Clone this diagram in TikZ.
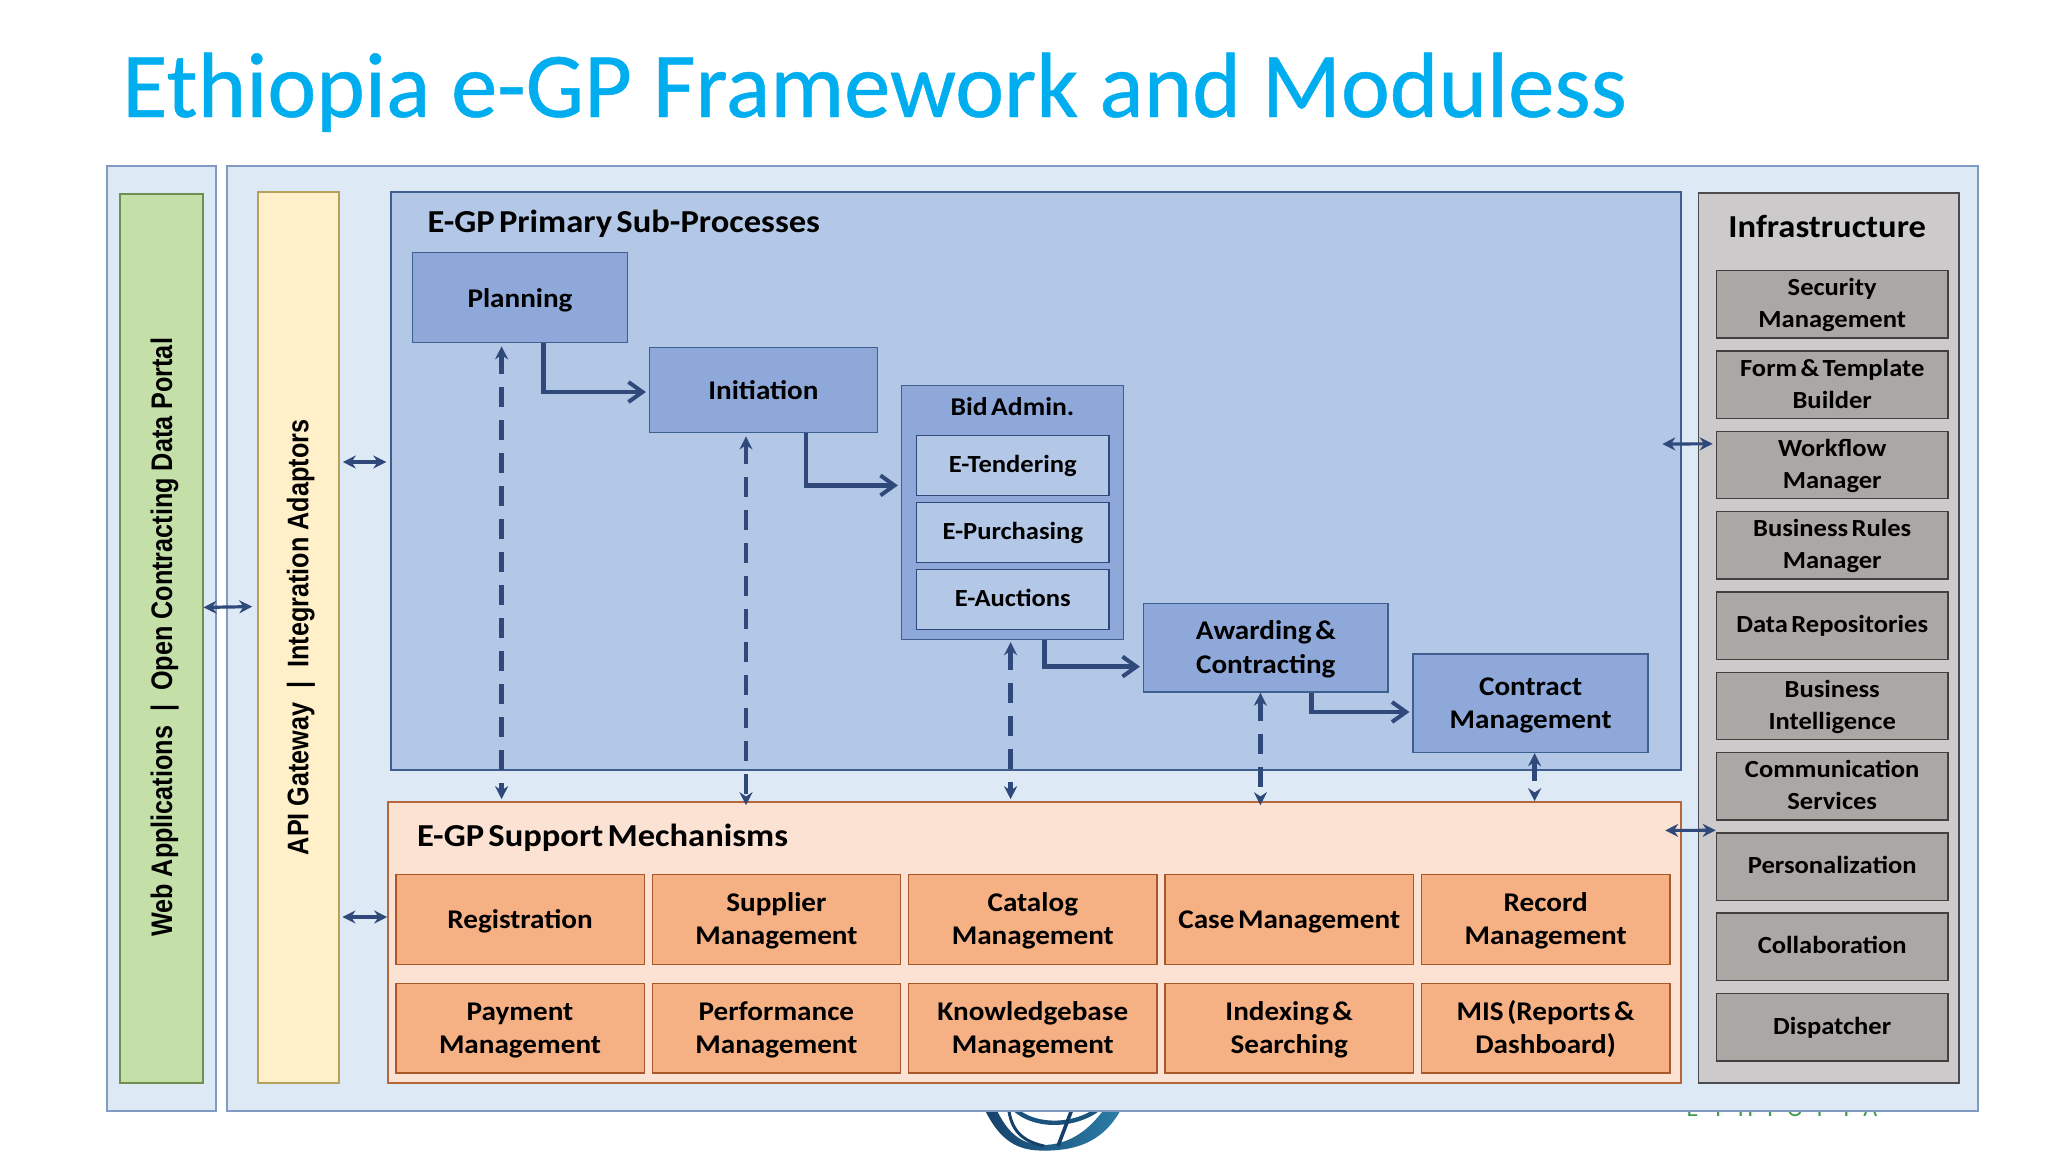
\documentclass[tikz,border=0pt]{standalone}
\usepackage{fontspec}
\usepackage{graphicx}
\usetikzlibrary{arrows.meta}
\setmainfont{Carlito}
\newfontfamily\titlefont{Carlito}[FakeBold=0.5]
\newfontfamily\boxfont{Carlito}[FakeStretch=1.08, WordSpace=0.55]
\newfontfamily\sidefont{Liberation Sans}
\definecolor{titleblue}{HTML}{00AEEF}
\definecolor{panelfill}{HTML}{DEE9F6}
\definecolor{paneldraw}{HTML}{7F9BC4}
\definecolor{webgreen}{HTML}{C5DFA9}
\definecolor{webdraw}{HTML}{6E8F50}
\definecolor{apiyellow}{HTML}{FFF0C9}
\definecolor{apidraw}{HTML}{B5A15C}
\definecolor{primaryfill}{HTML}{B3C7E6}
\definecolor{primarydraw}{HTML}{3F5F8F}
\definecolor{stagefill}{HTML}{8FA8DA}
\definecolor{supportfill}{HTML}{FCE2D2}
\definecolor{supportdraw}{HTML}{B5673A}
\definecolor{modulefill}{HTML}{F5B084}
\definecolor{moduledraw}{HTML}{A8572A}
\definecolor{infrafill}{HTML}{CCCACA}
\definecolor{servicefill}{HTML}{ABA7A5}
\definecolor{navyline}{HTML}{2F4A7A}
\definecolor{logonavy}{HTML}{15406A}
\definecolor{logoteal}{HTML}{2C7FA8}
\definecolor{wordgreen}{HTML}{3E9A4E}

\begin{document}
\begin{tikzpicture}[x=1pt, y=-1pt,
        panel/.style={rectangle, draw=paneldraw, fill=panelfill, line width=0.8pt, inner sep=0pt},
        stage/.style={rectangle, draw=primarydraw, fill=stagefill, line width=0.7pt, align=center, inner sep=0pt,
            text height=9.4pt, text depth=0pt,
            font=\boxfont\fontsize{13.5}{16.7}\selectfont\bfseries},
        twolines/.style={text height=25.2pt},
        tender/.style={stage, text height=6.8pt, fill=primaryfill, draw=navyline, minimum width=96.3pt, minimum height=30pt, font=\boxfont\fontsize{12.3}{15}\selectfont\bfseries},
        module/.style={stage, fill=modulefill, draw=moduledraw, minimum width=124.2pt, minimum height=44.8pt},
        service/.style={stage, text height=7pt, fill=servicefill, draw=black!75, minimum width=115.8pt, minimum height=33.7pt, font=\boxfont\fontsize{12.3}{16}\selectfont\bfseries},
        servicetwo/.style={service, text height=23.4pt},
        heading/.style={anchor=west, inner sep=0pt, font=\boxfont\fontsize{16}{19}\selectfont\bfseries},
        sidetext/.style={rotate=90, inner sep=0pt, font=\sidefont\fontsize{12.6}{15}\selectfont\bfseries},
        arrow/.style={-{Straight Barb[length=7pt,width=10pt,line width=2pt]}, navyline, line width=2.2pt, shorten >=1.5pt},
        link/.style={{Stealth[length=6.5pt,width=6.5pt]}-{Stealth[length=6.5pt,width=6.5pt]}, navyline, line width=1.6pt},
        dashlink/.style={link, dash pattern=on 10pt off 6.5pt, line width=2.3pt}]

    \useasboundingbox (0,0) rectangle (1024,576);

    % the logo and word left behind the panels
    \node[anchor=base, inner sep=0pt, text=wordgreen, font=\fontsize{12}{14}\selectfont] (ethiopia) at (891,558.4) {E\hspace{7pt}T\hspace{7pt}H\hspace{7pt}I\hspace{7pt}O\hspace{7pt}P\hspace{7pt}I\hspace{7pt}A};
    \shade[left color=logonavy, right color=logoteal] (491,552) .. controls (500,572) and (510,575.3) .. (522,575.3) .. controls (540,575.3) and (553,570) .. (562,552) -- (554,552) .. controls (545,565) and (535,572.5) .. (521,572.5) .. controls (510,572) and (503,566) .. (497,552) -- cycle;
    \draw[logonavy!70!logoteal, line width=2.2pt] (505,552) .. controls (515,565) and (540,564) .. (552,552);
    \draw[logonavy, line width=1.5pt] (504,552) .. controls (505,562) and (508,570) .. (522,573);
    \draw[logonavy, line width=1.8pt] (537,552) -- (529,573);

    % title
    \node[anchor=base west, inner sep=0pt, text=titleblue, font=\titlefont\fontsize{46.3}{52}\selectfont] (title) at (61,58.5) {Ethiopia e-GP Framework and Moduless};

    % outer panels
    \node[panel, minimum width=54.5pt, minimum height=472.5pt] (outerleft) at (80.6,319.2) {};
    \node[panel, minimum width=875.6pt, minimum height=472.5pt] (outermain) at (551.2,319.2) {};

    % side bars
    \node[panel, draw=webdraw, fill=webgreen, minimum width=41.3pt, minimum height=444.5pt] (webapps) at (80.7,319.1) {};
    \node[sidetext] (webtext) at (82.3,318.7) {\scalebox{1}[1.18]{Web Applications\ \ |\ \ Open Contracting Data Portal}};
    \node[panel, draw=apidraw, fill=apiyellow, minimum width=40.6pt, minimum height=445.4pt] (gateway) at (149.3,318.7) {};
    \node[sidetext] (apitext) at (150.5,318.7) {\scalebox{1}[1.18]{API Gateway\ \ |\ \ Integration Adaptors}};

    % primary sub-processes
    \node[panel, draw=primarydraw, fill=primaryfill, minimum width=644.9pt, minimum height=289pt] (primary) at (518,240.5) {};
    \node[heading] (primaryhead) at (213.6,112) {E-GP Primary Sub-Processes};
    \node[stage, minimum width=107.5pt, minimum height=45pt] (planning) at (260,148.8) {Planning};
    \node[stage, minimum width=113.8pt, minimum height=42.7pt] (initiation) at (381.7,195) {Initiation};
    \node[stage, minimum width=111pt, minimum height=127pt] (bid) at (506.3,256.2) {};
    \node[inner sep=0pt, font=\boxfont\fontsize{12.8}{15}\selectfont\bfseries] (bidhead) at (506.2,203.5) {Bid Admin.};
    \node[tender] (tendering) at (506.4,232.8) {E-Tendering};
    \node[tender, below of=tendering, node distance=33.4pt] (purchasing) {E-Purchasing};
    \node[tender, below of=purchasing, node distance=33.4pt] (auctions) {E-Auctions};
    \node[stage, twolines, minimum width=122.2pt, minimum height=44.2pt] (awarding) at (632.9,323.9) {Awarding \&\\Contracting};
    \node[stage, twolines, minimum width=117.5pt, minimum height=49.3pt] (contract) at (765.3,351.6) {Contract\\Management};

    % support mechanisms
    \node[panel, draw=supportdraw, fill=supportfill, minimum width=646.4pt, minimum height=140.6pt] (support) at (517.2,471.3) {};
    \node[heading] (supporthead) at (208.3,419) {E-GP Support Mechanisms};
    \node[module] (registration) at (260,459.7) {Registration};
    \node[module, twolines, right of=registration, node distance=128.2pt] (supplier) {Supplier\\Management};
    \node[module, twolines, right of=supplier, node distance=128.2pt] (catalog) {Catalog\\Management};
    \node[module, right of=catalog, node distance=128.2pt] (casemgmt) {Case Management};
    \node[module, twolines, right of=casemgmt, node distance=128.2pt] (record) {Record\\Management};
    \node[module, twolines, below of=registration, node distance=54.4pt] (payment) {Payment\\Management};
    \node[module, twolines, right of=payment, node distance=128.2pt] (performance) {Performance\\Management};
    \node[module, twolines, right of=performance, node distance=128.2pt] (knowledge) {Knowledgebase\\Management};
    \node[module, twolines, right of=knowledge, node distance=128.2pt] (indexing) {Indexing \&\\Searching};
    \node[module, twolines, right of=indexing, node distance=128.2pt] (mis) {MIS (Reports \&\\Dashboard)};

    % infrastructure
    \node[panel, draw=black!70, fill=infrafill, minimum width=130.3pt, minimum height=445pt] (infra) at (914.4,319.1) {};
    \node[inner sep=0pt, font=\boxfont\fontsize{16}{19}\selectfont\bfseries] (infrahead) at (913.6,113) {Infrastructure};
    \node[servicetwo] (security) at (916.1,152.2) {Security\\Management};
    \node[servicetwo, below of=security, node distance=40.15pt] (form) {Form \& Template\\Builder};
    \node[servicetwo, below of=form, node distance=40.15pt] (workflow) {Workflow\\Manager};
    \node[servicetwo, below of=workflow, node distance=40.15pt] (rules) {Business Rules\\Manager};
    \node[service, below of=rules, node distance=40.15pt] (repositories) {Data Repositories};
    \node[servicetwo, below of=repositories, node distance=40.15pt] (intelligence) {Business\\Intelligence};
    \node[servicetwo, below of=intelligence, node distance=40.15pt] (communication) {Communication\\Services};
    \node[service, below of=communication, node distance=40.15pt] (personal) {Personalization};
    \node[service, below of=personal, node distance=40.15pt] (collab) {Collaboration};
    \node[service, below of=collab, node distance=40.15pt] (dispatcher) {Dispatcher};

    % process flow
    \draw[arrow] ([xshift=11.7pt]planning.south) |- ([yshift=-1pt]initiation.west);
    \draw[arrow] ([xshift=21.3pt]initiation.south) |- ([yshift=13.5pt]bid.west);
    \draw[arrow] ([xshift=16pt]bid.south) |- ([yshift=-9.4pt]awarding.west);
    \draw[arrow] ([xshift=22.9pt]awarding.south) |- ([yshift=-4.4pt]contract.west);

    % dashed links down to the support panel
    \draw[dashlink] ([xshift=-9.2pt,yshift=-1.5pt]planning.south) -- ([xshift=-9.2pt,yshift=1pt]planning.south |- support.north);
    \draw[dashlink] ([xshift=-8.7pt,yshift=-1.5pt]initiation.south) -- ([xshift=-8.7pt,yshift=-2pt]initiation.south |- support.north);
    \draw[dashlink] ([xshift=-1pt,yshift=-1pt]bid.south) -- ([xshift=-1pt,yshift=1pt]bid.south |- support.north);
    \draw[dashlink] ([xshift=-2.7pt]awarding.south) -- ([xshift=-2.7pt,yshift=-2pt]awarding.south |- support.north);
    \draw[dashlink] ([xshift=2pt]contract.south) -- ([xshift=2pt]contract.south |- support.north);

    % links between the panels
    \draw[link] ([yshift=15.4pt]webapps.east) -- ([yshift=15.4pt,xshift=-2.5pt]gateway.west);
    \draw[link] ([yshift=87.7pt,xshift=1.4pt]gateway.east) -- ([yshift=9.5pt,xshift=-2pt]primary.west);
    \draw[link] ([yshift=-139.8pt,xshift=1.2pt]gateway.east) -- ([yshift=12.8pt]support.west);
    \draw[link] ([yshift=18.5pt,xshift=-9.7pt]primary.east) -- ([yshift=10.6pt,xshift=-1.5pt]workflow.west);
    \draw[link] ([yshift=56.1pt,xshift=-8.2pt]support.east) -- ([yshift=18.1pt]personal.west);
\end{tikzpicture}
\end{document}
